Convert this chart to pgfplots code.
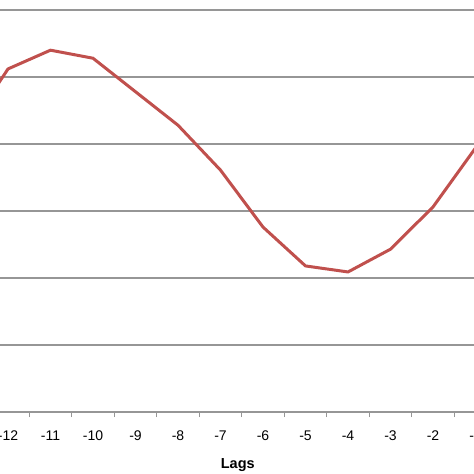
\documentclass[border=0pt]{standalone}
\usepackage{pgfplots}
\pgfplotsset{compat=1.18}
\usepackage{fontspec}
\setmainfont{Liberation Sans}
\definecolor{linered}{RGB}{192,80,77}
\definecolor{gridgray}{RGB}{150,150,150}
\begin{document}
\begin{tikzpicture}
\useasboundingbox (0,-62pt) rectangle (474pt,412pt);
\clip (0,-62pt) rectangle (474pt,412pt);
\begin{axis}[
  scale only axis,
  width=475.5pt, height=412pt,
  xmin=-12.188, xmax=-1.0,
  ymin=0, ymax=6.149,
  axis x line*=bottom,
  axis y line*=left,
  y axis line style={draw=none},
  x axis line style={draw=gridgray, line width=1.3pt},
  xtick={-12,...,-1},
  minor xtick={-12.5,-11.5,...,-0.5},
  major x tick style={draw=none},
  minor x tick style={draw=gridgray, line width=1.3pt},
  minor tick length=5pt,
  tick align=outside,
  ytick={1,...,6},
  yticklabels={},
  major y tick style={draw=none},
  ymajorgrids,
  grid style={draw=gridgray, line width=1.3pt},
  every tick label/.style={font=\fontsize{14}{16}\selectfont},
  /pgf/number format/assume math mode=true,
  xticklabel style={yshift=-11pt},
  xlabel={\textbf{Lags}},
  xlabel style={font=\fontsize{14.5}{17}\selectfont\bfseries, yshift=-11pt},
  clip=false,
]
\addplot[linered, line width=3pt, line join=round, mark=none] coordinates {
(-13,4.16) (-12,5.12) (-11,5.40) (-10,5.28) (-9,4.78) (-8,4.28) (-7,3.61)
(-6,2.76) (-5,2.18) (-4,2.09) (-3,2.43) (-2,3.06) (-1,3.94)
};
\end{axis}
\end{tikzpicture}
\end{document}
